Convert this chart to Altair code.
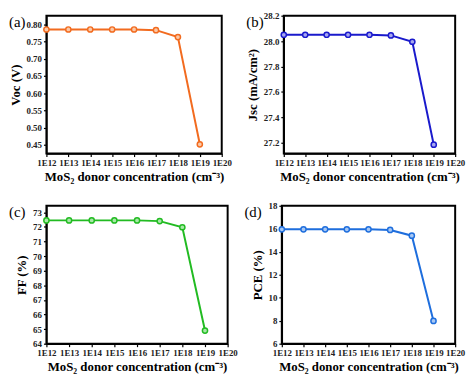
import altair as alt
import pandas as pd

# Donor concentration exponents (1E12 ... 1E19)
conc_exp = [12, 13, 14, 15, 16, 17, 18, 19]
x_ticks = [12, 13, 14, 15, 16, 17, 18, 19, 20]

voc = [0.785, 0.785, 0.785, 0.785, 0.785, 0.783, 0.763, 0.452]
jsc = [28.05, 28.05, 28.05, 28.05, 28.05, 28.045, 27.995, 27.185]
ff = [72.45, 72.45, 72.45, 72.45, 72.45, 72.40, 71.98, 64.90]
pce = [15.95, 15.95, 15.95, 15.95, 15.95, 15.90, 15.40, 7.98]

voc_ticks = [0.45, 0.50, 0.55, 0.60, 0.65, 0.70, 0.75, 0.80]
jsc_ticks = [27.2, 27.4, 27.6, 27.8, 28.0, 28.2]
ff_ticks = [64, 65, 66, 67, 68, 69, 70, 71, 72, 73]
pce_ticks = [6, 8, 10, 12, 14, 16, 18]

FONT = "Liberation Serif"
XTITLE = "MoS\u2082 donor concentration (cm\u207b\u00b3)"


def panel(vals, color, fill, ytitle, domain, yticks, fmt, label, w, h):
    df = pd.DataFrame({"x": conc_exp, "y": vals})
    base = alt.Chart(df)
    x = alt.X("x:Q", scale=alt.Scale(domain=[12, 20], nice=False),
              axis=alt.Axis(values=x_ticks, labelExpr="'1E' + datum.value",
                            title=XTITLE, labelFlush=False))
    y = alt.Y("y:Q", scale=alt.Scale(domain=domain, nice=False, zero=False),
              axis=alt.Axis(values=yticks, format=fmt, title=ytitle))
    line = base.mark_line(color=color, strokeWidth=2).encode(x=x, y=y)
    pts = base.mark_point(filled=True, fill=fill, stroke=color, strokeWidth=1.5,
                          size=28, opacity=1).encode(x=x, y=y)
    lab = alt.Chart(pd.DataFrame({"t": [label]})).mark_text(
        font=FONT, fontSize=15, align="left", baseline="middle"
    ).encode(x=alt.value(-38), y=alt.value(6), text="t:N")
    return alt.layer(line, pts, lab).properties(width=w, height=h)


a = panel(voc, "#F26B1F", "#FBC9A8", "Voc (V)", [0.425, 0.825], voc_ticks, ".2f", "(a)", 178, 140)
b = panel(jsc, "#1A1ACC", "#A8A8F0", "Jsc (mA/cm\u00b2)", [27.115, 28.2], jsc_ticks, ".1f", "(b)", 174, 140)
c = panel(ff, "#22BB22", "#A8E8A8", "FF (%)", [64, 73.45], ff_ticks, "d", "(c)", 184, 140)
d = panel(pce, "#1E6EDD", "#A8C8F4", "PCE (%)", [6, 18], pce_ticks, "d", "(d)", 176, 140)

top = alt.hconcat(a, b, spacing=63, bounds="flush")
bot = alt.hconcat(c, d, spacing=55, bounds="flush")

chart = alt.vconcat(top, bot, spacing=17).properties(
    padding=0, background="white"
).configure_view(
    stroke="black", strokeWidth=2
).configure_axis(
    grid=False, domainColor="black", domainWidth=1.5, tickColor="black",
    tickSize=3, tickWidth=1.2, labelFont=FONT, labelFontWeight="bold",
    labelFontSize=9, labelColor="#222", titleFont=FONT, titleFontWeight="bold",
    titleFontSize=13, titleColor="black", labelPadding=2
).configure_axisX(
    titlePadding=3
).configure_axisY(
    titlePadding=4
)

chart.save("out.html", embed_options={"renderer": "svg", "actions": False})
